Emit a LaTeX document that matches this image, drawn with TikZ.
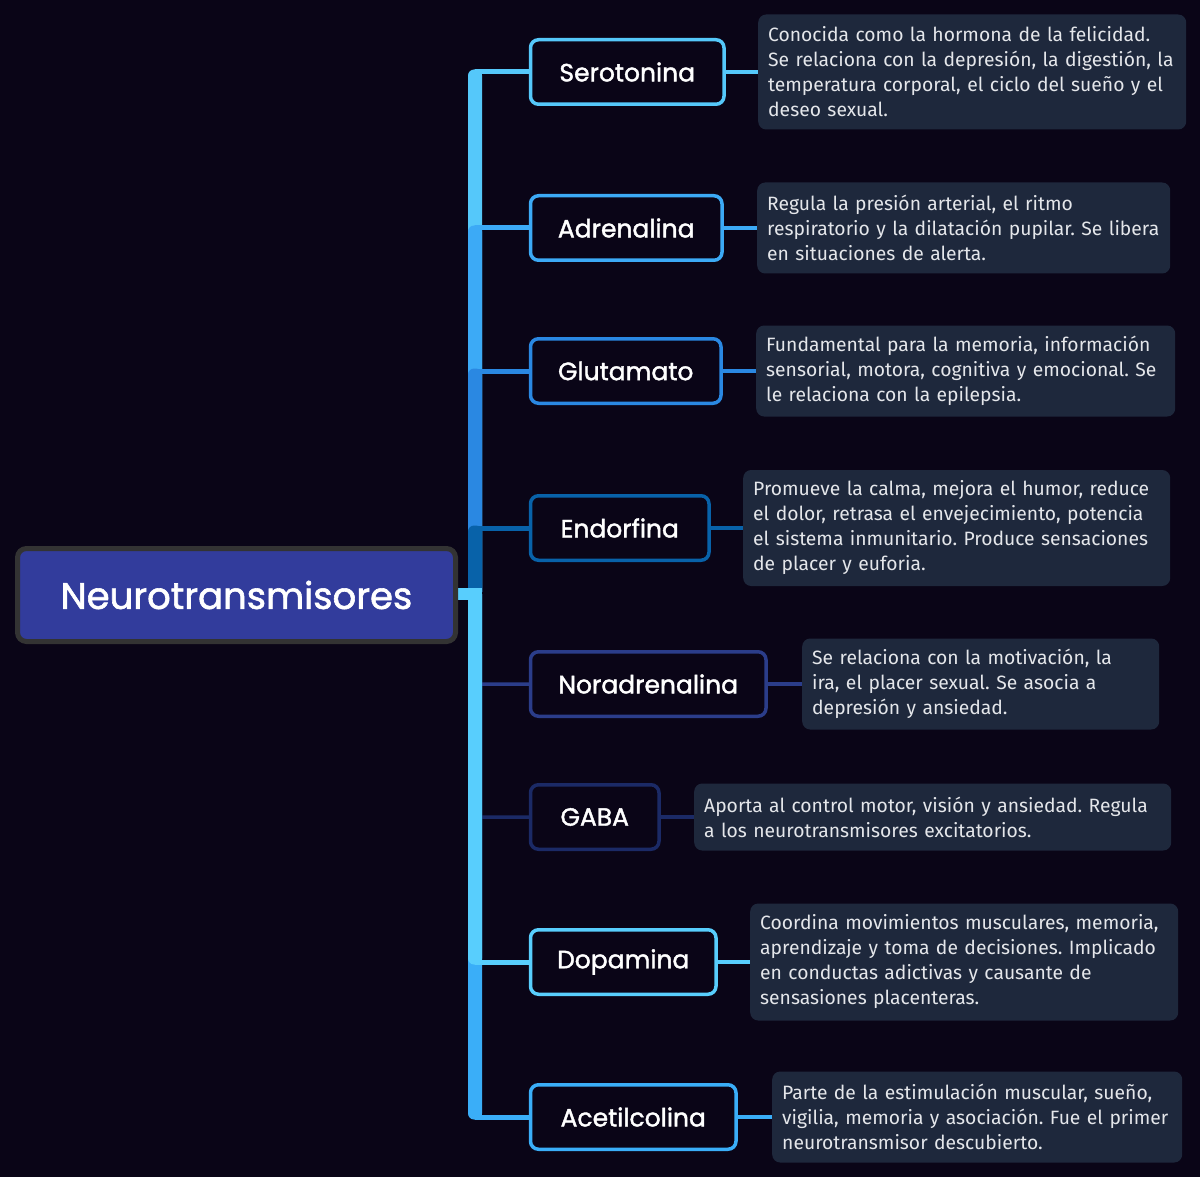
\documentclass[tikz,border=0pt]{standalone}
\usepackage{fontspec}
\setmainfont{Fira Sans}
\newfontfamily\labelfont{Poppins}[FakeBold=1.6]
\usetikzlibrary{calc}
\definecolor{bg}{HTML}{0A0517}
\definecolor{descbg}{HTML}{1E283C}
\definecolor{desctext}{HTML}{E4E6EA}
\definecolor{rootfill}{HTML}{323C9C}
\definecolor{rootdraw}{HTML}{333333}
\definecolor{csero}{HTML}{55C8FA}
\definecolor{cadre}{HTML}{3CAAF6}
\definecolor{cglut}{HTML}{2A88E2}
\definecolor{cendo}{HTML}{0862A9}
\definecolor{cnora}{HTML}{2B3D8A}
\definecolor{cgaba}{HTML}{1B2A66}
\definecolor{cdopa}{HTML}{58CEFD}
\definecolor{cacet}{HTML}{3AAEF8}
\tikzset{
  lbl/.style={draw=#1, line width=3.5pt, rounded corners=8pt, fill=bg, text=white,
    minimum height=64.5pt, inner sep=0pt, anchor=west,
    font=\labelfont\fontsize{25}{30}\selectfont},
  desc/.style={fill=descbg, rounded corners=8pt, text=desctext, align=left,
    inner xsep=10pt, inner ysep=0pt, anchor=west,
    font=\frenchspacing\fontsize{19.3}{25}\selectfont},
  rootbox/.style={draw=rootdraw, fill=rootfill, line width=5pt, rounded corners=9pt,
    text=white, minimum width=438pt, minimum height=93pt, inner sep=0pt,
    font=\labelfont\fontsize{37}{44}\selectfont},
  link/.style={draw=#1, line width=3.5pt},
  twig/.style={draw=#1, line width=5pt},
}
\begin{document}
\begin{tikzpicture}[x=1pt,y=-1pt]
\fill[bg] (0,0) rectangle (1200,1177);
\useasboundingbox (0,0) rectangle (1200,1177);
\coordinate (tx) at (475,594);

% child nodes
\node[lbl=csero, minimum width=193.5pt] (sero) at (528.75,72) {Serotonina};
\node[lbl=cadre, minimum width=191.5pt] (adre) at (528.75,228) {Adrenalina};
\node[lbl=cglut, minimum width=190.5pt] (glut) at (528.75,371) {Glutamato};
\node[lbl=cendo, minimum width=178.5pt] (endo) at (528.75,528) {Endorfina};
\node[lbl=cnora, minimum width=235.5pt] (nora) at (528.75,684) {Noradrenalina};
\node[lbl=cgaba, minimum width=128.5pt] (gaba) at (528.75,817) {GABA};
\node[lbl=cdopa, minimum width=185.5pt] (dopa) at (528.75,962) {Dopamina};
\node[lbl=cacet, minimum width=205.5pt] (acet) at (528.75,1117) {Acetilcolina};

% description boxes
\node[desc, text width=408pt, minimum height=115pt] (dsero) at (758,72)
  {Conocida como la hormona de la felicidad.\\Se relaciona con la depresión, la digestión, la\\temperatura corporal, el ciclo del sueño y el\\deseo sexual.};
\node[desc, text width=393pt, minimum height=91pt] (dadre) at (757,228)
  {Regula la presión arterial, el ritmo\\respiratorio y la dilatación pupilar. Se libera\\en situaciones de alerta.};
\node[desc, text width=399pt, minimum height=91pt] (dglut) at (756,371)
  {Fundamental para la memoria, información\\sensorial, motora, cognitiva y emocional. Se\\le relaciona con la epilepsia.};
\node[desc, text width=407pt, minimum height=116pt] (dendo) at (743,528)
  {Promueve la calma, mejora el humor, reduce\\el dolor, retrasa el envejecimiento, potencia\\el sistema inmunitario. Produce sensaciones\\de placer y euforia.};
\node[desc, text width=337pt, minimum height=91pt] (dnora) at (802,684)
  {Se relaciona con la motivación, la\\ira, el placer sexual. Se asocia a\\depresión y ansiedad.};
\node[desc, text width=457pt, minimum height=67pt] (dgaba) at (694,817)
  {Aporta al control motor, visión y ansiedad. Regula\\a los neurotransmisores excitatorios.};
\node[desc, text width=408pt, minimum height=117pt] (ddopa) at (750,962)
  {Coordina movimientos musculares, memoria,\\aprendizaje y toma de decisiones. Implicado\\en conductas adictivas y causante de\\sensasiones placenteras.};
\node[desc, text width=390pt, minimum height=91pt] (dacet) at (772,1117)
  {Parte de la estimulación muscular, sueño,\\vigilia, memoria y asociación. Fue el primer\\neurotransmisor descubierto.};

% node to description links
\draw[link=csero] (sero.east) -- (dsero.west);
\draw[link=cadre] (adre.east) -- (dadre.west);
\draw[link=cglut] (glut.east) -- (dglut.west);
\draw[link=cendo] (endo.east) -- (dendo.west);
\draw[link=cnora] (nora.east) -- (dnora.west);
\draw[link=cgaba] (gaba.east) -- (dgaba.west);
\draw[link=cdopa] (dopa.east) -- (ddopa.west);
\draw[link=cacet] (acet.east) -- (dacet.west);

% upward branches
\foreach \n/\c in {sero/csero, adre/cadre, glut/cglut, endo/cendo}{
  \fill[\c, rounded corners=6pt] ($(tx)+(-7,4)$) rectangle ($(\n.west -| tx)+(7,-2.5)$);
  \draw[twig=\c] (\n.west -| tx) -- (\n.west);
}
% downward branches
\fill[cacet, rounded corners=6pt] ($(tx)+(-7,-6)$) rectangle ($(acet.west -| tx)+(7,2.5)$);
\draw[twig=cacet] (acet.west -| tx) -- (acet.west);
\draw[link=cgaba, rounded corners=4pt] ($(gaba.west -| tx)+(0,-8)$) -- (gaba.west -| tx) -- (gaba.west);
\draw[link=cnora, rounded corners=4pt] ($(nora.west -| tx)+(0,-8)$) -- (nora.west -| tx) -- (nora.west);
\fill[cdopa, rounded corners=6pt] ($(tx)+(-7,-6)$) rectangle ($(dopa.west -| tx)+(7,2.5)$);
\draw[twig=cdopa] (dopa.west -| tx) -- (dopa.west);

% root
\fill[cdopa] ($(tx)+(-17,-6)$) rectangle ($(tx)+(7,6)$);
\node[rootbox] (root) at (236.5,595) {Neurotransmisores};
\end{tikzpicture}
\end{document}
